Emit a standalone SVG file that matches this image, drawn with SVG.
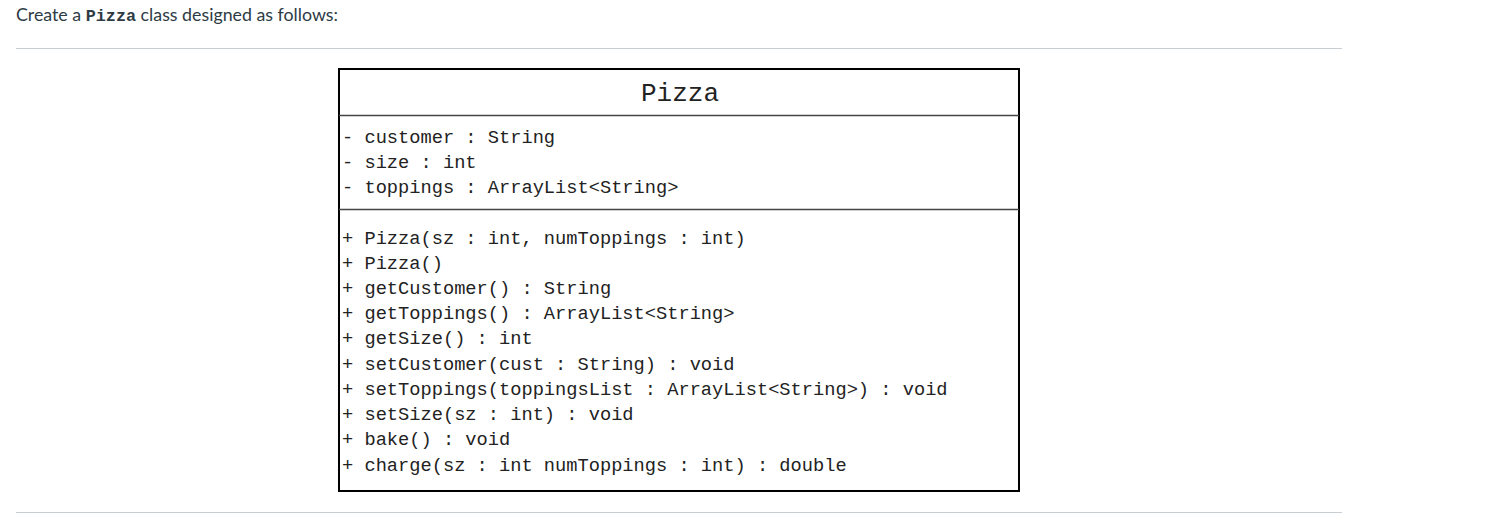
<svg xmlns="http://www.w3.org/2000/svg" width="1489" height="513" viewBox="0 0 1489 513">
<style>
.hd{font-family:Lato,"Liberation Sans",sans-serif;font-size:17.8px;fill:#2d3b45}
.hc{font-family:"Liberation Mono",monospace;font-weight:bold;font-size:16.8px;fill:#2d3b45}
.m{font-family:"Liberation Mono","Courier New",monospace;font-size:18.7px;fill:#222}
.t{font-family:"Liberation Mono","Courier New",monospace;font-size:26px;fill:#222}
.hr{stroke:#c7cdd1;stroke-width:1}
.div{stroke:#444;stroke-width:1.5}
</style>
<rect width="1489" height="513" fill="#fff"/>
<g id="heading">
<text x="16" y="21" class="hd">Create a <tspan class="hc">Pizza</tspan> class designed as follows:</text>
</g>
<line x1="16" y1="48.5" x2="1342" y2="48.5" class="hr"/>
<line x1="16" y1="512.5" x2="1342" y2="512.5" class="hr"/>
<g id="pizza-class">
<rect x="339" y="69" width="680" height="422" fill="#fff" stroke="#000" stroke-width="2"/>
<line x1="339" y1="115.5" x2="1019" y2="115.5" class="div"/>
<line x1="339" y1="209.5" x2="1019" y2="209.5" class="div"/>
<text x="680" y="101" class="t" text-anchor="middle">Pizza</text>
<text x="342" y="143" class="m">- customer : String</text>
<text x="342" y="168" class="m">- size : int</text>
<text x="342" y="193" class="m">- toppings : ArrayList&lt;String&gt;</text>
<text x="342" y="244" class="m">+ Pizza(sz : int, numToppings : int)</text>
<text x="342" y="269" class="m">+ Pizza()</text>
<text x="342" y="294" class="m">+ getCustomer() : String</text>
<text x="342" y="319" class="m">+ getToppings() : ArrayList&lt;String&gt;</text>
<text x="342" y="344" class="m">+ getSize() : int</text>
<text x="342" y="370" class="m">+ setCustomer(cust : String) : void</text>
<text x="342" y="395" class="m">+ setToppings(toppingsList : ArrayList&lt;String&gt;) : void</text>
<text x="342" y="420" class="m">+ setSize(sz : int) : void</text>
<text x="342" y="445" class="m">+ bake() : void</text>
<text x="342" y="471" class="m">+ charge(sz : int numToppings : int) : double</text>
</g>
</svg>
